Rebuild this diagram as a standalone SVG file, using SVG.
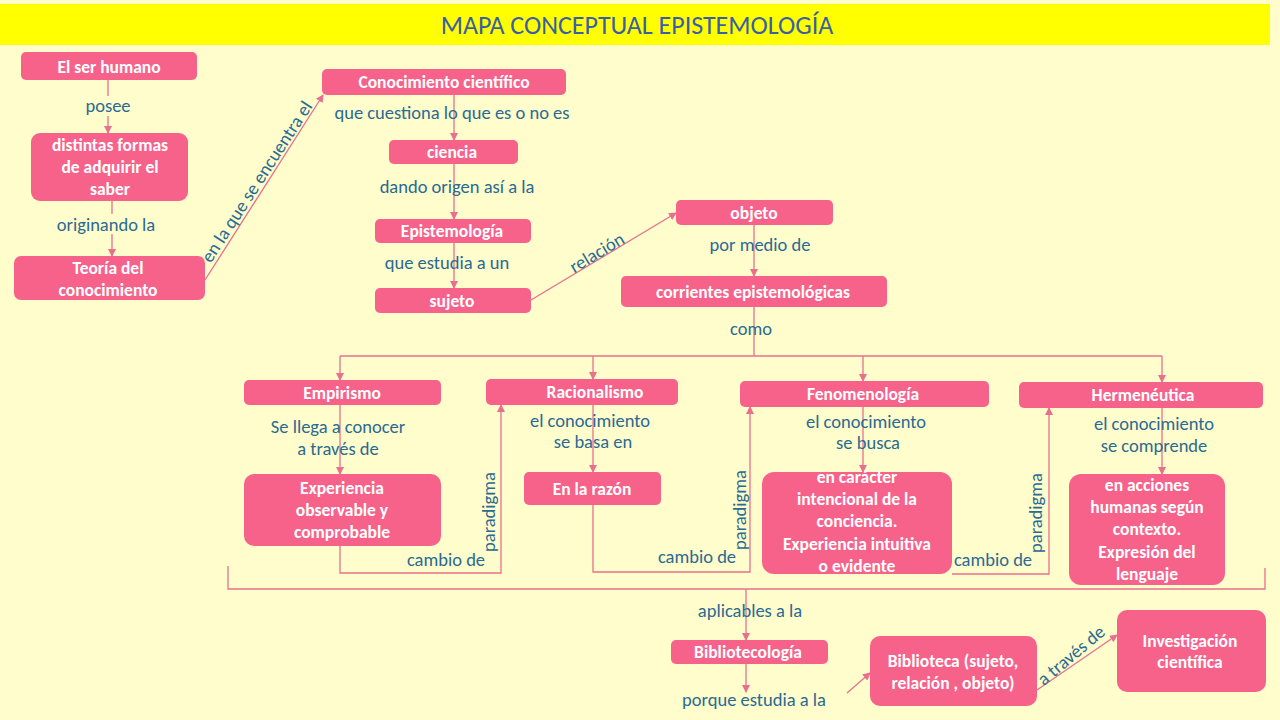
<svg xmlns="http://www.w3.org/2000/svg" width="1280" height="720" viewBox="0 0 1280 720">
<defs>
<marker id="ar" markerWidth="8" markerHeight="8" refX="7" refY="4" orient="auto" markerUnits="userSpaceOnUse"><path d="M0,0 L8,4 L0,8 z" fill="#E8708E"/></marker>
<style>
.n{fill:#F7628A}
.nt{font-family:Calibri,Carlito,"Liberation Sans",sans-serif;font-weight:bold;font-size:17.5px;fill:#fff;text-anchor:middle}
.l{font-family:Calibri,Carlito,"Liberation Sans",sans-serif;font-size:18.5px;fill:#2A6A93;text-anchor:middle}
.c{fill:none;stroke:#E8708E;stroke-width:1.3}
</style>
</defs>
<rect width="1280" height="720" fill="#FEFDCB"/>
<rect x="0" y="4" width="1270" height="41" fill="#FFFF00"/>
<text x="637" y="34" font-family="Calibri,Carlito,'Liberation Sans',sans-serif" font-size="26" fill="#3A5FA8" text-anchor="middle">MAPA CONCEPTUAL EPISTEMOLOGÍA</text>
<g id="connectors">
<path class="c" d="M108,80 V96 M108,116 V133" marker-end="url(#ar)"/>
<path class="c" d="M112,201 V214 M112,234 V256" marker-end="url(#ar)"/>
<path class="c" d="M205,280 L323,95" marker-end="url(#ar)"/>
<path class="c" d="M454,95 V140" marker-end="url(#ar)"/>
<path class="c" d="M454,164 V219" marker-end="url(#ar)"/>
<path class="c" d="M454,243 V288" marker-end="url(#ar)"/>
<path class="c" d="M531,300 L676,213" marker-end="url(#ar)"/>
<path class="c" d="M754,225 V276" marker-end="url(#ar)"/>
<path class="c" d="M754,307 V356 M340,356 H1162"/>
<path class="c" d="M340,356 V380" marker-end="url(#ar)"/>
<path class="c" d="M593,356 V379" marker-end="url(#ar)"/>
<path class="c" d="M863,356 V381" marker-end="url(#ar)"/>
<path class="c" d="M1162,356 V382" marker-end="url(#ar)"/>
<path class="c" d="M340,405 V474" marker-end="url(#ar)"/>
<path class="c" d="M593,405 V472" marker-end="url(#ar)"/>
<path class="c" d="M863,407 V472" marker-end="url(#ar)"/>
<path class="c" d="M1162,408 V474" marker-end="url(#ar)"/>
<path class="c" d="M340,546 V573 H501 V405" marker-end="url(#ar)"/>
<path class="c" d="M593,505 V572 H750 V407" marker-end="url(#ar)"/>
<path class="c" d="M952,574 H1049 V408" marker-end="url(#ar)"/>
<path class="c" d="M228,566 V589 H1265 V568"/>
<path class="c" d="M746,589 V640" marker-end="url(#ar)"/>
<path class="c" d="M746,664 V692" marker-end="url(#ar)"/>
<path class="c" d="M847,693 L870,673" marker-end="url(#ar)"/>
<path class="c" d="M1037,690 L1117,635" marker-end="url(#ar)"/>
</g>
<g id="labels">
<text class="l" x="108" y="112">posee</text>
<text class="l" x="106" y="231">originando la</text>
<text class="l" transform="translate(262,185) rotate(-57)">en la que se encuentra el</text>
<text class="l" x="452" y="119">que cuestiona lo que es o no es</text>
<text class="l" x="457" y="193">dando origen así a la</text>
<text class="l" x="447" y="269">que estudia  a un</text>
<text class="l" transform="translate(600,258) rotate(-31)">relación</text>
<text class="l" x="760" y="251">por medio de</text>
<text class="l" x="751" y="335">como</text>
<text class="l" x="338" y="433">Se llega a conocer</text>
<text class="l" x="338" y="455">a través de</text>
<text class="l" x="590" y="427">el conocimiento</text>
<text class="l" x="593" y="448">se basa en</text>
<text class="l" x="866" y="428">el conocimiento</text>
<text class="l" x="868" y="449">se busca</text>
<text class="l" x="1154" y="430">el conocimiento</text>
<text class="l" x="1154" y="452">se comprende</text>
<text class="l" x="446" y="566">cambio de</text>
<text class="l" transform="translate(495,512) rotate(-90)">paradigma</text>
<text class="l" x="697" y="563">cambio de</text>
<text class="l" transform="translate(746,510) rotate(-90)">paradigma</text>
<text class="l" x="993" y="566">cambio de</text>
<text class="l" transform="translate(1042,513) rotate(-90)">paradigma</text>
<text class="l" x="750" y="617">aplicables a la</text>
<text class="l" x="754" y="706">porque estudia a la</text>
<text class="l" transform="translate(1075,660) rotate(-40)">a través de</text>
</g>
<g id="n1"><rect class="n" x="21" y="52" width="176" height="28" rx="5"/><text class="nt" x="109" y="73" font-size="21">El ser humano</text></g>
<g id="n2"><rect class="n" x="31" y="133" width="157" height="68" rx="9"/><text class="nt" x="110" y="151">distintas formas</text><text class="nt" x="110" y="173">de adquirir el</text><text class="nt" x="110" y="195">saber</text></g>
<g id="n3"><rect class="n" x="14" y="256" width="191" height="44" rx="7"/><text class="nt" x="108" y="274">Teoría del</text><text class="nt" x="108" y="296">conocimiento</text></g>
<g id="n4"><rect class="n" x="322" y="69" width="244" height="26" rx="5"/><text class="nt" x="444" y="88">Conocimiento científico</text></g>
<g id="n5"><rect class="n" x="389" y="140" width="129" height="24" rx="5"/><text class="nt" x="452" y="158">ciencia</text></g>
<g id="n6"><rect class="n" x="375" y="219" width="156" height="24" rx="5"/><text class="nt" x="452" y="237">Epistemología</text></g>
<g id="n7"><rect class="n" x="375" y="288" width="156" height="25" rx="5"/><text class="nt" x="452" y="307">sujeto</text></g>
<g id="n8"><rect class="n" x="676" y="200" width="157" height="25" rx="5"/><text class="nt" x="754" y="219">objeto</text></g>
<g id="n9"><rect class="n" x="621" y="276" width="266" height="31" rx="5"/><text class="nt" x="753" y="298">corrientes epistemológicas</text></g>
<g id="n10"><rect class="n" x="244" y="380" width="197" height="25" rx="5"/><text class="nt" x="342" y="399">Empirismo</text></g>
<g id="n11"><rect class="n" x="486" y="379" width="192" height="26" rx="5"/><text class="nt" x="595" y="398">Racionalismo</text></g>
<g id="n12"><rect class="n" x="740" y="381" width="249" height="26" rx="5"/><text class="nt" x="863" y="400">Fenomenología</text></g>
<g id="n13"><rect class="n" x="1019" y="382" width="244" height="26" rx="5"/><text class="nt" x="1143" y="401">Hermenéutica</text></g>
<g id="n14"><rect class="n" x="244" y="474" width="197" height="72" rx="10"/><text class="nt" x="342" y="494">Experiencia</text><text class="nt" x="342" y="516">observable y</text><text class="nt" x="342" y="538">comprobable</text></g>
<g id="n15"><rect class="n" x="524" y="472" width="137" height="33" rx="5"/><text class="nt" x="592" y="495">En la razón</text></g>
<g id="n16"><rect class="n" x="762" y="472" width="190" height="102" rx="12"/><text class="nt" x="857" y="483">en carácter</text><text class="nt" x="857" y="505">intencional de la</text><text class="nt" x="857" y="527">conciencia.</text><text class="nt" x="857" y="550">Experiencia intuitiva</text><text class="nt" x="857" y="572">o evidente</text></g>
<g id="n17"><rect class="n" x="1069" y="474" width="156" height="111" rx="12"/><text class="nt" x="1147" y="491">en acciones</text><text class="nt" x="1147" y="513">humanas según</text><text class="nt" x="1147" y="535">contexto.</text><text class="nt" x="1147" y="558">Expresión del</text><text class="nt" x="1147" y="580">lenguaje</text></g>
<g id="n18"><rect class="n" x="671" y="640" width="157" height="24" rx="5"/><text class="nt" x="748" y="658">Bibliotecología</text></g>
<g id="n19"><rect class="n" x="870" y="636" width="167" height="70" rx="10"/><text class="nt" x="953" y="667">Biblioteca (sujeto,</text><text class="nt" x="953" y="689">relación , objeto)</text></g>
<g id="n20"><rect class="n" x="1117" y="610" width="149" height="82" rx="10"/><text class="nt" x="1190" y="647">Investigación</text><text class="nt" x="1190" y="668">científica</text></g>
</svg>
